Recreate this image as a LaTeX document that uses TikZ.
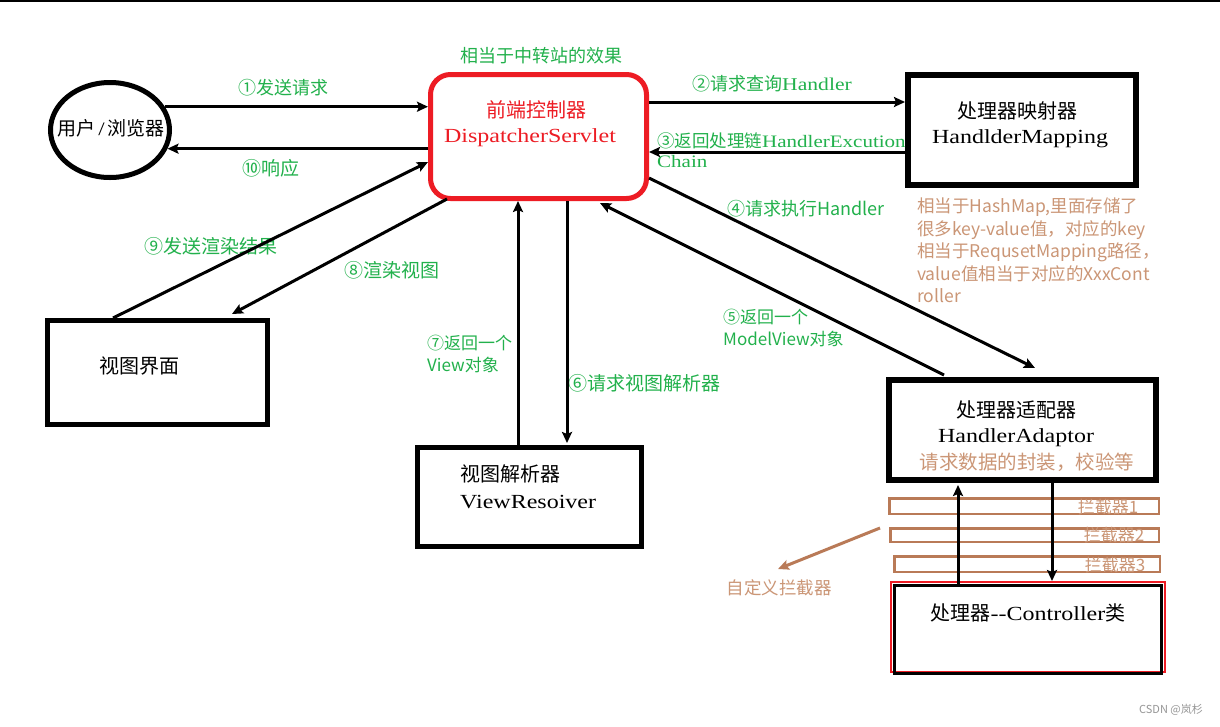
\documentclass[tikz,border=0pt]{standalone}
\usepackage{fontspec}
\setmainfont{Liberation Serif}
\newfontfamily\cjk{Noto Sans CJK SC}
\newfontfamily\lat[FakeStretch=1.2]{Liberation Serif}
\usetikzlibrary{arrows.meta,shapes.geometric,calc}
\definecolor{pgreen}{RGB}{34,177,76}
\definecolor{pred}{RGB}{237,28,36}
\definecolor{ptan}{RGB}{185,122,87}
\definecolor{ptantext}{RGB}{203,150,118}
\definecolor{pgrey}{RGB}{150,150,150}
\newcommand\setfs[1]{\fontsize{#1}{#1}\selectfont}
\begin{document}
\begin{tikzpicture}[x=1pt,y=-1pt,
  box/.style={draw=black,line width=5pt,inner sep=0pt},
  ibox/.style={draw=ptan,line width=2.5pt,inner sep=0pt},
  arr/.style={draw=black,line width=3pt,-{Stealth[length=11pt,width=10pt,inset=2pt]}},
  tanarr/.style={draw=ptan,line width=3pt,-{Stealth[length=11pt,width=10pt,inset=2pt]}},
  glabel/.style={inner sep=0pt,text=pgreen,font={\cjk\setfs{18.5}}},
  blabel/.style={inner sep=0pt,text=black,font={\cjk\setfs{20}}},
  latlabel/.style={inner sep=0pt,text=black,font={\lat\setfs{20}}},
  tlabel/.style={inner sep=0pt,text=ptantext,font={\cjk\setfs{17.5}}}]
\useasboundingbox (0,0) rectangle (1220,726);
\fill[white] (0,0) rectangle (1220,726);
\draw[line width=2pt] (0,1) -- (1220,1);

% shapes
\node[draw,ellipse,line width=5pt,minimum width=119pt,minimum height=95pt,inner sep=0pt] (ell) at (110,130) {};
\node[draw=pred,line width=5pt,rounded corners=20pt,minimum width=216pt,minimum height=124pt,inner sep=0pt] (ds) at (538.5,136.5) {};
\node[box,line width=6pt,minimum width=228pt,minimum height=110pt] (hm) at (1022,130) {};
\node[box,minimum width=220pt,minimum height=104pt] (view) at (157.5,372.5) {};
\node[box,minimum width=224pt,minimum height=99pt] (vr) at (529.5,497) {};
\node[box,line width=6pt,minimum width=267pt,minimum height=100pt] (ha) at (1022.5,430) {};
\node[ibox,minimum width=269.5pt,minimum height=15.5pt] (ic1) at (1024,506) {};
\node[ibox,minimum width=268.5pt,minimum height=13.5pt] (ic2) at (1024.5,535) {};
\node[ibox,minimum width=265.5pt,minimum height=15.5pt] (ic3) at (1027,564) {};
\draw[pred,line width=2pt] (891,582) rectangle (1165,672);
\node[box,line width=3pt,minimum width=267pt,minimum height=88pt] (ctrl) at (1028,629.5) {};

% texts in shapes
\node[blabel,font={\cjk\setfs{19}}] (tell) at (111,128) {用户\,{\lat /}\,浏览器};
\node[blabel,text=pred] (tds1) at (536,110) {前端控制器};
\node[latlabel,text=pred] (tds2) at (530,138) {DispatcherServlet};
\node[blabel] (thm1) at (1017,111) {处理器映射器};
\node[latlabel] (thm2) at (1020,139) {HandlderMapping};
\node[blabel] (tview) at (139,366) {视图界面};
\node[blabel,anchor=west] (tvr1) at (460,474) {视图解析器};
\node[latlabel,anchor=west] (tvr2) at (460,502) {ViewResoiver};
\node[blabel] (tha1) at (1016,410) {处理器适配器};
\node[latlabel] (tha2) at (1016,438) {HandlerAdaptor};
\node[tlabel,font={\cjk\setfs{19.5}}] (tha3) at (1027,462) {请求数据的封装，校验等};
\node[blabel] (tctrl) at (1028,613) {处理器{\lat --Controller}类};
\node[tlabel,font={\cjk\setfs{17}}] (ti1) at (1108,507) {拦截器1};
\node[tlabel,font={\cjk\setfs{17}}] (ti2) at (1114,535) {拦截器2};
\node[tlabel,font={\cjk\setfs{17}}] (ti3) at (1115,565) {拦截器3};
\node[tlabel] (tcustom) at (779,588) {自定义拦截器};
\node[tlabel,anchor=north west,align=left,font={\cjk\fontsize{17.5}{22.5}\selectfont}] (tnote) at (917,198)
  {相当于HashMap,里面存储了\\很多key-value值，对应的key\\相当于RequsetMapping路径，\\value值相当于对应的XxxCont\\roller};
\node[inner sep=0pt,text=pgrey,font={\cjk\setfs{11}}] (csdn) at (1171,710) {CSDN @岚杉};

% connector labels
\node[glabel,font={\cjk\setfs{18}}] (lmid) at (541,56) {相当于中转站的效果};
\node[glabel,font={\cjk\setfs{18}}] (l1) at (283,88) {①发送请求};
\node[glabel,font={\cjk\setfs{19}}] (l10) at (271,168) {⑩响应};
\node[glabel,font={\cjk\setfs{18}}] (l2) at (772,84) {②请求查询{\lat Handler}};
\node[glabel,anchor=west,font={\cjk\setfs{17.5}}] (l3) at (657,141) {③返回处理链{\lat HandlerExcution}};
\node[glabel,anchor=west,font={\lat\setfs{17.5}}] (l3b) at (657,162) {Chain};
\node[glabel,font={\cjk\setfs{18}}] (l4) at (806,209) {④请求执行Handler};
\node[glabel,anchor=west,font={\cjk\setfs{17}}] (l5a) at (723,317) {⑤返回一个};
\node[glabel,anchor=west,font={\cjk\setfs{17}}] (l5b) at (723,339) {ModelView对象};
\node[glabel,anchor=west,font={\cjk\setfs{19}}] (l6) at (568,383) {⑥请求视图解析器};
\node[glabel,anchor=west,font={\cjk\setfs{17}}] (l7a) at (427,343) {⑦返回一个};
\node[glabel,anchor=west,font={\cjk\setfs{17}}] (l7b) at (427,365) {View对象};
\node[glabel,font={\cjk\setfs{19}}] (l8) at (392,270) {⑧渲染视图};
\node[glabel,font={\cjk\setfs{19}}] (l9) at (211,246) {⑨发送渲染结果};

% connectors
\draw[arr] (ell.23) -- (ell.23 -| ds.west);
\draw[arr] (ds.west |- ell.342) -- (ell.342);
\draw[arr] (ds.east |- 0,102) -- (hm.west |- 0,102);
\draw[arr] (hm.west |- 0,152) -- (ds.east |- 0,152);
\draw[arr] (ds.east |- 0,178) -- ($(ha.north)+(12.5,-9)$);
\draw[arr] ($(ha.north)+(-78.5,-2)$) -- ($(ds.south)+(61.5,2)$);
\draw[arr] ($(ds.south)+(28.5,0)$) -- ($(vr.north)+(37.5,-2)$);
\draw[arr] ($(vr.north)+(-11.5,0)$) -- ($(ds.south)+(-20.5,0)$);
\draw[arr] ($(ds.south west)+(19,-2)$) -- ($(view.north)+(74.5,-4)$);
\draw[arr] ($(view.north)+(-44.5,0)$) -- ($(ds.west)+(0,25.5)$);
\draw[arr] ($(ctrl.north)+(-70,0)$) -- ($(ha.south)+(-64.5,2)$);
\draw[arr] ($(ha.south)+(29.5,0)$) -- ($(ctrl.north)+(24,-3)$);
\coordinate (cend) at (778,569);
\draw[tanarr] ($(ic2.west)+(-9,-7)$) -- (cend);
\end{tikzpicture}
\end{document}
